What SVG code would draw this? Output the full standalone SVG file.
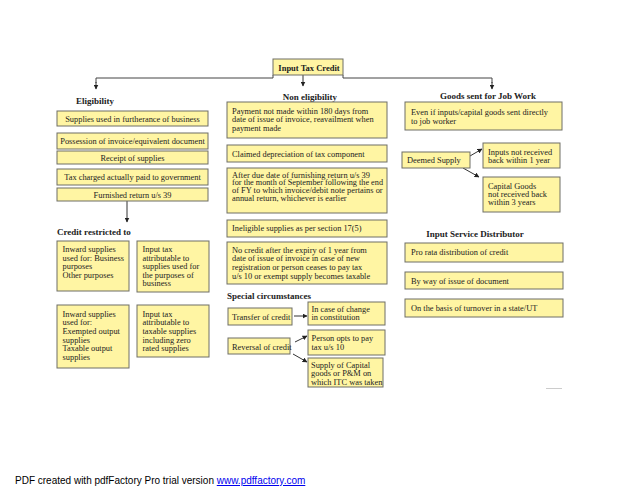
<svg xmlns="http://www.w3.org/2000/svg" width="638" height="493" viewBox="0 0 638 493">
<defs>
<marker id="ah" viewBox="0 0 10 10" refX="9" refY="5" markerWidth="5" markerHeight="5" orient="auto" markerUnits="userSpaceOnUse">
<path d="M0,0 L10,5 L0,10 z" fill="#222"/>
</marker>
<style>
.b{fill:#fff5a3;stroke:#6e6e66;stroke-width:1}
.t{font-family:"Liberation Serif",serif;font-size:8.4px;fill:#222}
.c{text-anchor:middle}
.h{font-family:"Liberation Serif",serif;font-size:9px;font-weight:bold;fill:#222}
.ln{fill:none;stroke:#444;stroke-width:1}
.ar{fill:none;stroke:#333;stroke-width:1;marker-end:url(#ah)}
</style>
</defs>
<rect width="638" height="493" fill="#fff"/>

<g id="connectors">
<path class="ln" d="M273,75 V78 H96 V83"/>
<path class="ar" d="M96,82 V89"/>
<path class="ln" d="M343,75 V78 H492 V83"/>
<path class="ar" d="M492,82 V89"/>
<path class="ar" d="M303,75 V86"/>
<path class="ar" d="M127,201 V222"/>
<path class="ar" d="M470,156 L482,149"/>
<path class="ar" d="M463,168 L479,177"/>
<path class="ar" d="M294,316 L307,316"/>
<path class="ar" d="M295,342 L307,336"/>
<path class="ar" d="M293,354 L307,362"/>
</g>

<g id="itc">
<rect class="b" x="273" y="59" width="70" height="16"/>
<text class="h c" x="309" y="70.5" style="font-size:8.5px">Input Tax Credit</text>
</g>

<g id="headings">
<text class="h c" x="95" y="104">Eligibility</text>
<text class="h c" x="310" y="99.5">Non eligibility</text>
<text class="h c" x="488" y="98.5">Goods sent for Job Work</text>
<text class="h" x="57" y="235">Credit restricted to</text>
<text class="h" x="227" y="298.5">Special circumstances</text>
<text class="h c" x="475" y="237">Input Service Distributor</text>
</g>

<g id="eligibility">
<rect class="b" x="57" y="111" width="151" height="15"/>
<text class="t c" x="132.5" y="121.5">Supplies used in furtherance of business</text>
<rect class="b" x="57" y="133" width="151" height="16"/>
<text class="t c" x="132.5" y="144">Possession of invoice/equivalent document</text>
<rect class="b" x="57" y="151" width="151" height="13"/>
<text class="t c" x="132.5" y="160.5">Receipt of supplies</text>
<rect class="b" x="57" y="169" width="151" height="16"/>
<text class="t c" x="132.5" y="180">Tax charged actually paid to government</text>
<rect class="b" x="57" y="188" width="151" height="13"/>
<text class="t c" x="132.5" y="197.5">Furnished return u/s 39</text>
</g>

<g id="credit-restricted">
<rect class="b" x="57" y="241" width="72" height="50"/>
<text class="t" x="62.5" y="252">Inward supplies<tspan x="62.5" dy="8.6">used for: Business</tspan><tspan x="62.5" dy="8.6">purposes</tspan><tspan x="62.5" dy="8.6">Other purposes</tspan></text>
<rect class="b" x="137" y="241" width="72" height="51"/>
<text class="t" x="142.5" y="252">Input tax<tspan x="142.5" dy="8.6">attributable to</tspan><tspan x="142.5" dy="8.6">supplies used for</tspan><tspan x="142.5" dy="8.6">the purposes of</tspan><tspan x="142.5" dy="8.6">business</tspan></text>
<rect class="b" x="57" y="305" width="72" height="63"/>
<text class="t" x="62.5" y="316.5">Inward supplies<tspan x="62.5" dy="8.7">used for:</tspan><tspan x="62.5" dy="8.7">Exempted output</tspan><tspan x="62.5" dy="8.7">supplies</tspan><tspan x="62.5" dy="8.7">Taxable output</tspan><tspan x="62.5" dy="8.7">supplies</tspan></text>
<rect class="b" x="137" y="305" width="72" height="52"/>
<text class="t" x="142.5" y="316.5">Input tax<tspan x="142.5" dy="8.7">attributable to</tspan><tspan x="142.5" dy="8.7">taxable supplies</tspan><tspan x="142.5" dy="8.7">including zero</tspan><tspan x="142.5" dy="8.7">rated supplies</tspan></text>
</g>

<g id="non-eligibility">
<rect class="b" x="227" y="102" width="160" height="36"/>
<text class="t" x="232" y="114">Payment not made within 180 days from<tspan x="232" dy="8.3">date of issue of invoice, reavailment when</tspan><tspan x="232" dy="8.3">payment made</tspan></text>
<rect class="b" x="227" y="145" width="160" height="17"/>
<text class="t" x="232" y="156.5">Claimed depreciation of tax component</text>
<rect class="b" x="227" y="168" width="160" height="45"/>
<text class="t" x="232" y="177.5">After due date of furnishing return u/s 39<tspan x="232" dy="7.9" textLength="151" lengthAdjust="spacingAndGlyphs">for the month of September following the end</tspan><tspan x="232" dy="7.9">of FY to which invoice/debit note pertains or</tspan><tspan x="232" dy="7.9">annual return, whichever is earlier</tspan></text>
<rect class="b" x="227" y="220" width="160" height="17"/>
<text class="t" x="232" y="231">Ineligible supplies as per section 17(5)</text>
<rect class="b" x="227" y="242" width="160" height="42"/>
<text class="t" x="232" y="252.5">No credit after the expiry of 1 year from<tspan x="232" dy="8.7">date of issue of invoice in case of new</tspan><tspan x="232" dy="8.7">registration or person ceases to pay tax</tspan><tspan x="232" dy="8.7">u/s 10 or exempt supply becomes taxable</tspan></text>
</g>

<g id="special">
<rect class="b" x="228" y="308" width="64" height="17"/>
<text class="t" x="232" y="319.5">Transfer of credit</text>
<rect class="b" x="308" y="302" width="77" height="23"/>
<text class="t" x="311.5" y="312">In case of change<tspan x="311.5" dy="8.3">in constitution</tspan></text>
<rect class="b" x="228" y="338" width="62" height="16"/>
<text class="t" x="232" y="349.5">Reversal of credit</text>
<rect class="b" x="308" y="330" width="77" height="25"/>
<text class="t" x="311.5" y="341">Person opts to pay<tspan x="311.5" dy="9">tax u/s 10</tspan></text>
<rect class="b" x="308" y="358" width="75" height="29"/>
<text class="t" x="311" y="367.5">Supply of Capital<tspan x="311" dy="8.7">goods or P&amp;M on</tspan><tspan x="311" dy="8.7">which ITC was taken</tspan></text>
</g>

<g id="job-work">
<rect class="b" x="405" y="102" width="157" height="28"/>
<text class="t" x="411" y="114.5">Even if inputs/capital goods sent directly<tspan x="411" dy="9">to job worker</tspan></text>
<rect class="b" x="402" y="152" width="68" height="16"/>
<text class="t" x="407" y="163">Deemed Supply</text>
<rect class="b" x="483" y="143" width="77" height="25"/>
<text class="t" x="488" y="154.5">Inputs not received<tspan x="488" dy="8.5">back within 1 year</tspan></text>
<rect class="b" x="483" y="177" width="77" height="35"/>
<text class="t" x="488" y="189">Capital Goods<tspan x="488" dy="8.1">not received back</tspan><tspan x="488" dy="8.1">within 3 years</tspan></text>
</g>

<g id="isd">
<rect class="b" x="405" y="243" width="158" height="19"/>
<text class="t" x="411" y="255">Pro rata distribution of credit</text>
<rect class="b" x="405" y="272" width="158" height="17"/>
<text class="t" x="411" y="283.5">By way of issue of document</text>
<rect class="b" x="405" y="299" width="158" height="18"/>
<text class="t" x="411" y="311">On the basis of turnover in a state/UT</text>
</g>

<line x1="546" y1="388.5" x2="562" y2="388.5" stroke="#ccc" stroke-width="1"/>

<g id="footer" font-family="'Liberation Sans',Arial,sans-serif" font-size="10px">
<text x="15" y="484" fill="#000">PDF created with pdfFactory Pro trial version <tspan fill="#0000ee" text-decoration="underline">www.pdffactory.com</tspan></text>
</g>
</svg>
